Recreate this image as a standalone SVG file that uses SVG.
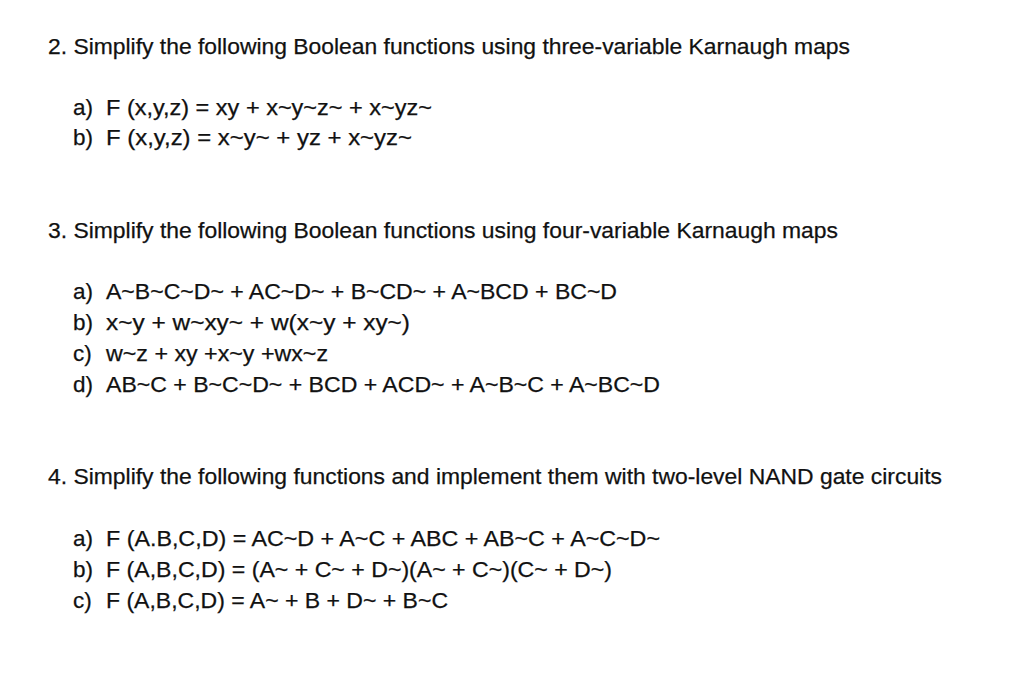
<svg xmlns="http://www.w3.org/2000/svg" width="1024" height="673" viewBox="0 0 1024 673">
<style>text{font-family:"Liberation Sans",Arial,sans-serif;font-size:22.5px;fill:#111;stroke:#111;stroke-width:0.25}</style>
<rect width="1024" height="673" fill="#fff"/>
<text x="48" y="54" textLength="802" lengthAdjust="spacingAndGlyphs">2. Simplify the following Boolean functions using three-variable Karnaugh maps</text>
<text x="73" y="115">a)</text><text x="106" y="115" textLength="326" lengthAdjust="spacingAndGlyphs">F (x,y,z) = xy + x~y~z~ + x~yz~</text>
<text x="73" y="145">b)</text><text x="106" y="145" textLength="306" lengthAdjust="spacingAndGlyphs">F (x,y,z) = x~y~ + yz + x~yz~</text>
<text x="48" y="238" textLength="790" lengthAdjust="spacingAndGlyphs">3. Simplify the following Boolean functions using four-variable Karnaugh maps</text>
<text x="73" y="299">a)</text><text x="106" y="299" textLength="511" lengthAdjust="spacingAndGlyphs">A~B~C~D~ + AC~D~ + B~CD~ + A~BCD + BC~D</text>
<text x="73" y="330">b)</text><text x="106" y="330" textLength="304" lengthAdjust="spacingAndGlyphs">x~y + w~xy~ + w(x~y + xy~)</text>
<text x="73" y="361">c)</text><text x="106" y="361" textLength="222" lengthAdjust="spacingAndGlyphs">w~z + xy +x~y +wx~z</text>
<text x="73" y="392">d)</text><text x="106" y="392" textLength="554" lengthAdjust="spacingAndGlyphs">AB~C + B~C~D~ + BCD + ACD~ + A~B~C + A~BC~D</text>
<text x="48" y="484" textLength="894" lengthAdjust="spacingAndGlyphs">4. Simplify the following functions and implement them with two-level NAND gate circuits</text>
<text x="73" y="546">a)</text><text x="106" y="546" textLength="554" lengthAdjust="spacingAndGlyphs">F (A.B,C,D) = AC~D + A~C + ABC + AB~C + A~C~D~</text>
<text x="73" y="577">b)</text><text x="106" y="577" textLength="506" lengthAdjust="spacingAndGlyphs">F (A,B,C,D) = (A~ + C~ + D~)(A~ + C~)(C~ + D~)</text>
<text x="73" y="608">c)</text><text x="106" y="608" textLength="342" lengthAdjust="spacingAndGlyphs">F (A,B,C,D) = A~ + B + D~ + B~C</text>
</svg>
